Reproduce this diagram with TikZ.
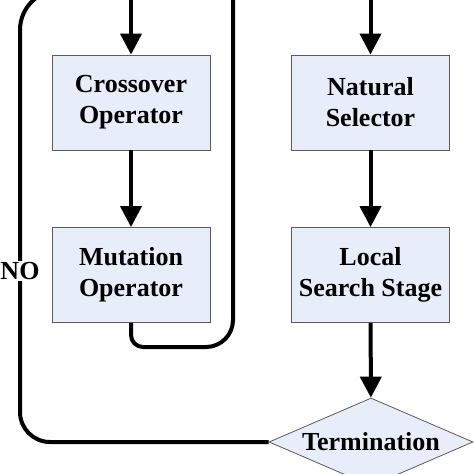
\documentclass[tikz,border=0pt]{standalone}
\usepackage{fontspec}
\setmainfont{Liberation Serif}
\definecolor{BoxFill}{RGB}{232,238,249}
\definecolor{BoxLine}{RGB}{90,90,90}
\usetikzlibrary{positioning, arrows.meta, shapes.geometric}

\begin{document}
\begin{tikzpicture}[x=1pt, y=-1pt,
    procbox/.style={draw=BoxLine, line width=0.8pt, fill=BoxFill, minimum width=158pt, minimum height=95pt, align=center, font=\fontsize{26}{31}\selectfont\bfseries},
    decision/.style={diamond, draw=BoxLine, line width=0.8pt, fill=BoxFill, aspect=2.3, minimum width=204pt, minimum height=88pt, inner sep=1pt, font=\fontsize{26}{31}\selectfont\bfseries},
    flowline/.style={line width=4pt},
    flowarrow/.style={flowline, -{Triangle[length=21pt, width=21pt]}}]
          \useasboundingbox (0,0) rectangle (474,474);
          \clip (0,0) rectangle (474,474);
          % boxes
          \node[procbox] (crossover) at (131,102.5) {Crossover\\Operator};
          \node[procbox] (mutation) at (131,275) {Mutation\\Operator};
          \node[procbox] (selector) at (370.5,102.5) {Natural\\Selector};
          \node[procbox] (localsearch) at (370.5,275) {Local\\Search Stage};
          \node[decision] (termination) at (371,442) {Termination};
          % loose ends outside the frame
          \coordinate (crossin) at (131,-5);
          \coordinate (selectin) at (370.5,-5);
          \coordinate (loopleft) at (90,-10);
          \coordinate (loopright) at (233,-10);
          % arrows
          \draw[flowarrow] (crossin) -- (crossover);
          \draw[flowarrow] (crossover) -- (mutation);
          \draw[flowarrow] (selectin) -- (selector);
          \draw[flowarrow] (selector) -- (localsearch);
          \draw[flowarrow] (localsearch) -- (termination);
          % loops
          \draw[flowline] (mutation.south) [rounded corners=12pt] -- (131,347) [rounded corners=27pt] -- (233,347) -- (loopright);
          \draw[flowline] (termination.west) [rounded corners=30pt] -- (20,442) [rounded corners=40pt] -- (20,-10) -- (loopleft);
          \node[fill=white, inner sep=1pt, font=\fontsize{26}{31}\selectfont\bfseries] (nolabel) at (20,271) {NO};
        \end{tikzpicture}
\end{document}
